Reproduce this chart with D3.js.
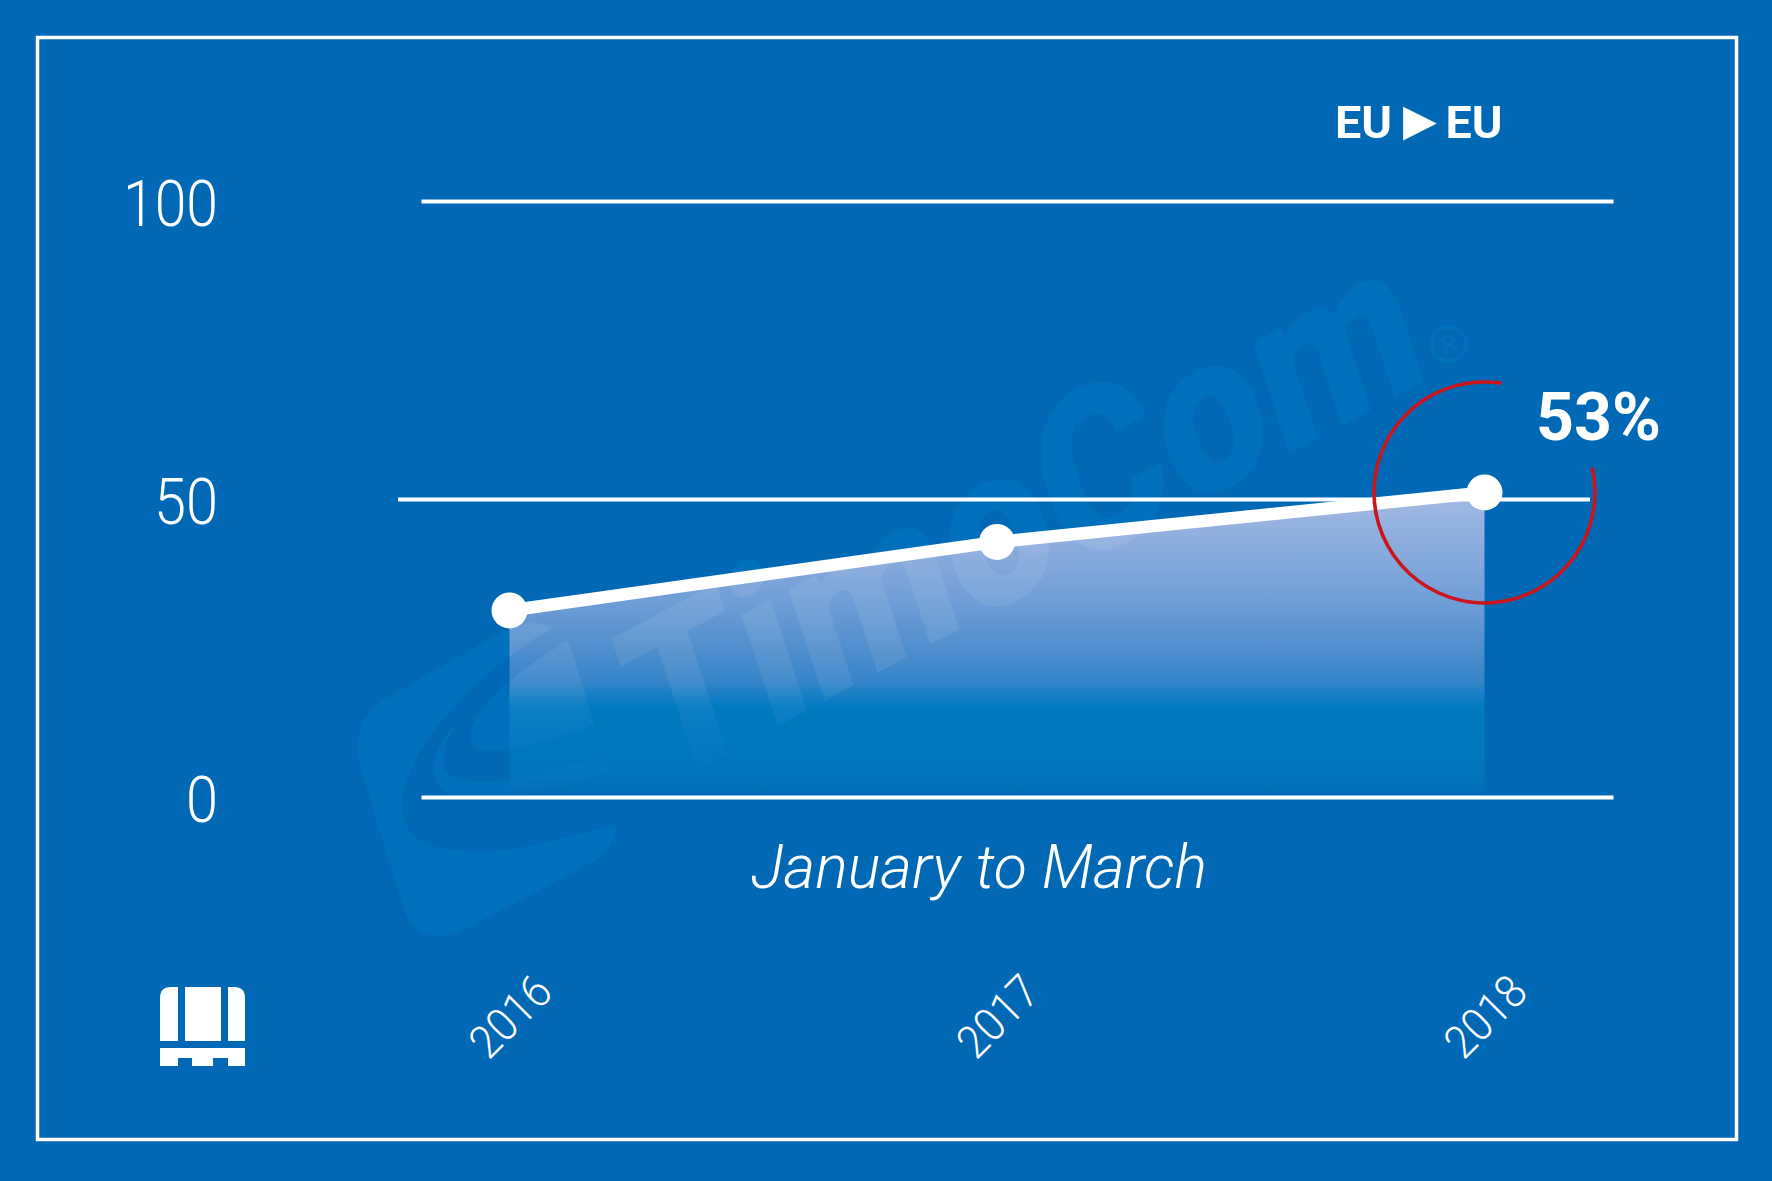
<!DOCTYPE html>
<html>
<head>
<meta charset="utf-8">
<script src="https://cdn.jsdelivr.net/npm/d3@7"></script>
<style>
	html, body { margin: 0; padding: 0; background: #0068b4; }
	svg { display: block; }
	text { fill: #fff; font-family: Roboto, sans-serif; }
</style>
</head>
<body>
<script>
const years = ["2016", "2017", "2018"];
const shareValues = [31.3, 42.8, 51.1];
const yTicks = [0, 50, 100];
const calloutLabel = "53%";
const periodLabel = "January to March";

const width = 1772, height = 1181;
const background = "#0068b4";

const x = d3.scalePoint().domain(years).range([509.5, 1484.5]);
const y = d3.scaleLinear().domain([0, 100]).range([797, 201]);

const rows = years.map((year, i) => ({ year, value: shareValues[i] }));

const svg = d3.select("body").append("svg")
	.attr("width", width)
	.attr("height", height)
	.attr("viewBox", `0 0 ${width} ${height}`);

svg.append("rect").attr("width", width).attr("height", height).attr("fill", background);

// frame
svg.append("rect")
	.attr("x", 37.5).attr("y", 37.5)
	.attr("width", 1699).attr("height", 1102)
	.attr("fill", "none")
	.attr("stroke", "#fff")
	.attr("stroke-width", 3.5);

const defs = svg.append("defs");

const gradient = defs.append("linearGradient")
	.attr("id", "area-fade")
	.attr("gradientUnits", "userSpaceOnUse")
	.attr("x1", 0).attr("x2", 0)
	.attr("y1", 490).attr("y2", y(0));

[
	[0, "#a4bbe2"],
	[0.3, "#7aa3da"],
	[0.5, "#5590cf"],
	[0.62, "#3585c8"],
	[0.71, "#0079c1"],
	[0.92, "#0075bd"],
	[1, "#0069b4"],
].forEach(([o, c]) => gradient.append("stop").attr("offset", o).attr("stop-color", c));

// the part of the watermark over the area fades out towards the baseline
const overlayFade = defs.append("linearGradient")
	.attr("id", "overlay-fade")
	.attr("gradientUnits", "userSpaceOnUse")
	.attr("x1", 0).attr("x2", 0)
	.attr("y1", 490).attr("y2", y(0));
overlayFade.append("stop").attr("offset", 0.6).attr("stop-color", "#fff");
overlayFade.append("stop").attr("offset", 0.85).attr("stop-color", "#333");

defs.append("mask")
	.attr("id", "overlay-mask")
	.attr("maskUnits", "userSpaceOnUse")
	.attr("x", 0).attr("y", 0)
	.attr("width", width).attr("height", height)
	.append("rect")
	.attr("width", width).attr("height", height)
	.attr("fill", "url(#overlay-fade)");

// watermark, defined once and used under and over the area
const mark = defs.append("g").attr("id", "watermark");

const logo = mark.append("g").attr("transform", "translate(340,260) scale(0.5102,0.4464)");
logo.append("path").attr("d", "M415,825 C300,900 120,1080 122,1230 C125,1310 200,1328 290,1325 C370,1320 460,1290 545,1262 C535,1310 520,1335 490,1352 L235,1505 C190,1530 145,1510 128,1465 L38,1130 C25,1060 50,1000 100,975 L330,825 C360,810 395,812 415,825 Z");
logo.append("path").attr("d", "M443,853 C455,865 455,880 460,895 L498,1040 C420,1075 330,1105 280,1098 C250,1090 250,1060 265,1030 C300,960 380,900 443,853 Z");
logo.append("path").attr("d", "M250,1010 C210,1060 195,1110 205,1140 C225,1175 290,1175 350,1160 C410,1145 470,1125 517,1110 L527,1147 C450,1175 340,1210 260,1207 C200,1205 180,1170 183,1130 C188,1090 215,1050 250,1010 Z");

mark.append("text")
	.attr("transform", "translate(657,790) rotate(-28) skewX(-10)")
	.attr("font-size", 218)
	.attr("font-weight", 900)
	.attr("textLength", 878)
	.attr("lengthAdjust", "spacingAndGlyphs")
	.style("fill", "inherit")
	.text("TimoCom");

mark.append("circle")
	.attr("cx", 1449).attr("cy", 344).attr("r", 17)
	.attr("fill", "none")
	.attr("stroke", "currentColor")
	.attr("stroke-width", 4);

mark.append("text")
	.attr("transform", "translate(1449,344) rotate(-18)")
	.attr("text-anchor", "middle")
	.attr("dy", "0.36em")
	.attr("font-size", 24)
	.attr("font-weight", 700)
	.style("fill", "inherit")
	.text("R");

const area = d3.area()
	.x(d => x(d.year))
	.y0(y(0))
	.y1(d => y(d.value));

defs.append("clipPath").attr("id", "area-clip")
	.append("path").attr("d", area(rows));

svg.append("use").attr("href", "#watermark")
	.attr("fill", "#0070bd")
	.attr("color", "#0070bd");

svg.append("path")
	.attr("class", "area")
	.attr("d", area(rows))
	.attr("fill", "url(#area-fade)");

svg.append("g")
	.attr("clip-path", "url(#area-clip)")
	.append("g")
	.attr("mask", "url(#overlay-mask)")
	.append("use").attr("href", "#watermark")
	.attr("fill", "#fff")
	.attr("color", "#fff")
	.attr("opacity", 0.08);

// y axis, its ticks double as the gridlines
const gridEnds = { 0: [421.5, 1613.5], 50: [398, 1590], 100: [421.5, 1613.5] };

const yAxis = svg.append("g")
	.attr("class", "y axis")
	.call(d3.axisLeft(y).tickValues(yTicks).tickSize(0).tickPadding(0));

yAxis.select(".domain").remove();
yAxis.selectAll(".tick line")
	.attr("x1", d => gridEnds[d][0])
	.attr("x2", d => gridEnds[d][1])
	.attr("stroke", "#fff")
	.attr("stroke-width", 4);
yAxis.selectAll(".tick text")
	.attr("x", 218)
	.attr("y", 24)
	.attr("dy", 0)
	.attr("text-anchor", "end")
	.attr("font-family", "Roboto, sans-serif")
	.attr("font-weight", 300)
	.attr("font-size", 65)
	.text(d => d)
	.attr("textLength", d => ({ 0: 32, 50: 64, 100: 95 })[d])
	.attr("lengthAdjust", "spacingAndGlyphs");

// callout ring, open towards the label
const ring = d3.arc()
	.innerRadius(108.7)
	.outerRadius(112.3)
	.startAngle(77 * Math.PI / 180)
	.endAngle(369 * Math.PI / 180);

const line = d3.line().x(d => x(d.year)).y(d => y(d.value));

svg.append("path")
	.attr("d", line(rows))
	.attr("fill", "none")
	.attr("stroke", "#fff")
	.attr("stroke-width", 12.5);

svg.append("path")
	.attr("d", ring())
	.attr("transform", `translate(${x("2018")},${y(shareValues[2])})`)
	.attr("fill", "#c9161d");

svg.selectAll(".dot")
	.data(rows)
	.join("circle")
	.attr("class", "dot")
	.attr("cx", d => x(d.year))
	.attr("cy", d => y(d.value))
	.attr("r", 18)
	.attr("fill", "#fff");

svg.append("text")
	.attr("x", 1536).attr("y", 440)
	.attr("font-size", 66)
	.attr("font-weight", 700)
	.attr("textLength", 125)
	.attr("lengthAdjust", "spacingAndGlyphs")
	.text(calloutLabel);

// route heading
svg.append("text")
	.attr("x", 1335).attr("y", 138)
	.attr("font-size", 45).attr("font-weight", 700)
	.attr("textLength", 57).attr("lengthAdjust", "spacingAndGlyphs")
	.text("EU");
svg.append("text")
	.attr("x", 1403).attr("y", 135)
	.attr("font-size", 44)
	.style("font-family", "'DejaVu Sans'")
	.text("\u25B6");
svg.append("text")
	.attr("x", 1445.5).attr("y", 138)
	.attr("font-size", 45).attr("font-weight", 700)
	.attr("textLength", 57).attr("lengthAdjust", "spacingAndGlyphs")
	.text("EU");

svg.append("text")
	.attr("x", 751).attr("y", 888)
	.attr("font-size", 61)
	.attr("font-weight", 300)
	.attr("font-style", "italic")
	.attr("textLength", 456)
	.attr("lengthAdjust", "spacingAndGlyphs")
	.text(periodLabel);

// x axis, labels turned 45 degrees
const xAxis = svg.append("g")
	.attr("class", "x axis")
	.attr("transform", "translate(0,1016)")
	.call(d3.axisBottom(x).tickSize(0).tickPadding(0));

xAxis.select(".domain").remove();
xAxis.selectAll(".tick text")
	.attr("y", 0)
	.attr("dy", "0.36em")
	.attr("transform", "rotate(-45)")
	.attr("text-anchor", "middle")
	.attr("font-family", "Roboto, sans-serif")
	.attr("font-weight", 300)
	.attr("font-size", 46)
	.attr("textLength", 94)
	.attr("lengthAdjust", "spacingAndGlyphs");

// pallet icon
const icon = svg.append("g").attr("fill", "#fff");
icon.append("path").attr("d", "M178,987 H171 Q160,987 160,998 V1041 H178 Z");
icon.append("rect").attr("x", 185).attr("y", 987).attr("width", 36).attr("height", 54);
icon.append("path").attr("d", "M228,987 H234 Q245,987 245,998 V1041 H228 Z");
icon.append("path").attr("d", "M160,1048 H245 V1066 H228 V1058 H213 V1066 H192 V1058 H178 V1066 H160 Z");
</script>
</body>
</html>
